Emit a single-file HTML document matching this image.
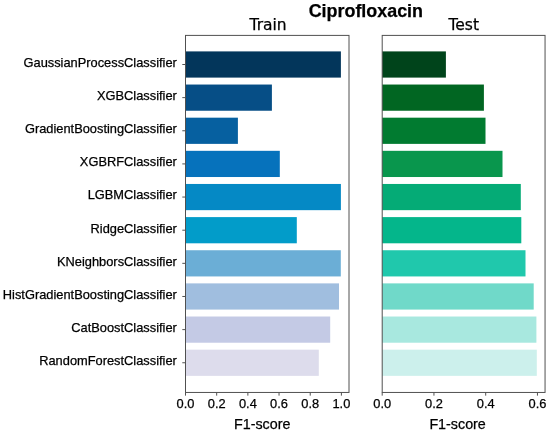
<!DOCTYPE html>
<html><head><meta charset="utf-8"><title>Ciprofloxacin</title>
<style>
html,body{margin:0;padding:0;background:#fff;}
body{width:550px;height:433px;position:relative;overflow:hidden;font-family:"Liberation Sans",sans-serif;color:#000;-webkit-text-stroke:0.25px #000;}
svg{position:absolute;left:0;top:0;}
.a{position:absolute;}
.yl{position:absolute;right:373.2px;font-size:12.83px;line-height:16px;height:16px;white-space:nowrap;text-align:right;}
.xl{position:absolute;font-size:12.83px;line-height:14px;height:14px;width:40px;text-align:center;white-space:nowrap;}
.t{position:absolute;font-family:"DejaVu Sans",sans-serif;font-size:15.5px;line-height:18px;white-space:nowrap;}
</style></head><body>
<svg width="550" height="433" viewBox="0 0 550 433">
<rect x="185.5" y="51.40" width="155.4" height="26.2" fill="#03365B"/>
<rect x="382.2" y="51.40" width="63.7" height="26.2" fill="#00441B"/>
<rect x="185.5" y="84.54" width="86.4" height="26.2" fill="#064E86"/>
<rect x="382.2" y="84.54" width="101.7" height="26.2" fill="#016622"/>
<rect x="185.5" y="117.68" width="52.4" height="26.2" fill="#0660A0"/>
<rect x="382.2" y="117.68" width="103.3" height="26.2" fill="#017B30"/>
<rect x="185.5" y="150.82" width="94.3" height="26.2" fill="#0672BC"/>
<rect x="382.2" y="150.82" width="120.3" height="26.2" fill="#09964D"/>
<rect x="185.5" y="183.96" width="155.4" height="26.2" fill="#0589C5"/>
<rect x="382.2" y="183.96" width="138.6" height="26.2" fill="#05AB76"/>
<rect x="185.5" y="217.10" width="111.3" height="26.2" fill="#029CC9"/>
<rect x="382.2" y="217.10" width="139.1" height="26.2" fill="#04B68B"/>
<rect x="185.5" y="250.24" width="155.3" height="26.2" fill="#6BAED6"/>
<rect x="382.2" y="250.24" width="143.3" height="26.2" fill="#20C8AC"/>
<rect x="185.5" y="283.38" width="153.5" height="26.2" fill="#A0BEDF"/>
<rect x="382.2" y="283.38" width="151.5" height="26.2" fill="#70D9C9"/>
<rect x="185.5" y="316.52" width="144.7" height="26.2" fill="#C4CAE5"/>
<rect x="382.2" y="316.52" width="154.2" height="26.2" fill="#A8E8DF"/>
<rect x="185.5" y="349.66" width="133.3" height="26.2" fill="#DDDCEC"/>
<rect x="382.2" y="349.66" width="154.6" height="26.2" fill="#CCF0EC"/>
<g stroke="#505050" stroke-width="1" fill="none">
<line x1="182.3" y1="64.50" x2="185.5" y2="64.50"/>
<line x1="182.3" y1="97.64" x2="185.5" y2="97.64"/>
<line x1="182.3" y1="130.78" x2="185.5" y2="130.78"/>
<line x1="182.3" y1="163.92" x2="185.5" y2="163.92"/>
<line x1="182.3" y1="197.06" x2="185.5" y2="197.06"/>
<line x1="182.3" y1="230.20" x2="185.5" y2="230.20"/>
<line x1="182.3" y1="263.34" x2="185.5" y2="263.34"/>
<line x1="182.3" y1="296.48" x2="185.5" y2="296.48"/>
<line x1="182.3" y1="329.62" x2="185.5" y2="329.62"/>
<line x1="182.3" y1="362.76" x2="185.5" y2="362.76"/>
<line x1="185.50" y1="392.45" x2="185.50" y2="395.65"/>
<line x1="216.68" y1="392.45" x2="216.68" y2="395.65"/>
<line x1="247.86" y1="392.45" x2="247.86" y2="395.65"/>
<line x1="279.04" y1="392.45" x2="279.04" y2="395.65"/>
<line x1="310.22" y1="392.45" x2="310.22" y2="395.65"/>
<line x1="341.40" y1="392.45" x2="341.40" y2="395.65"/>
<line x1="382.20" y1="392.45" x2="382.20" y2="395.65"/>
<line x1="433.95" y1="392.45" x2="433.95" y2="395.65"/>
<line x1="485.70" y1="392.45" x2="485.70" y2="395.65"/>
<line x1="537.45" y1="392.45" x2="537.45" y2="395.65"/>
<rect x="185.5" y="35.4" width="163.5" height="357.05"/>
<rect x="382.2" y="35.4" width="162.85" height="357.05"/>
</g></svg>
<div class="a" style="left:265.85px;width:200px;text-align:center;top:1.3px;font-weight:bold;font-size:17.9px;line-height:20px;">Ciprofloxacin</div>
<div class="t" style="left:249.5px;top:15.9px;">Train</div>
<div class="t" style="left:448.5px;top:15.9px;">Test</div>
<div class="yl" style="top:54.80px">GaussianProcessClassifier</div>
<div class="yl" style="top:87.94px">XGBClassifier</div>
<div class="yl" style="top:121.08px">GradientBoostingClassifier</div>
<div class="yl" style="top:154.22px">XGBRFClassifier</div>
<div class="yl" style="top:187.36px">LGBMClassifier</div>
<div class="yl" style="top:220.50px">RidgeClassifier</div>
<div class="yl" style="top:253.64px">KNeighborsClassifier</div>
<div class="yl" style="top:286.78px">HistGradientBoostingClassifier</div>
<div class="yl" style="top:319.92px">CatBoostClassifier</div>
<div class="yl" style="top:353.06px">RandomForestClassifier</div>
<div class="xl" style="left:165.50px;top:396.7px">0.0</div>
<div class="xl" style="left:196.68px;top:396.7px">0.2</div>
<div class="xl" style="left:227.86px;top:396.7px">0.4</div>
<div class="xl" style="left:259.04px;top:396.7px">0.6</div>
<div class="xl" style="left:290.22px;top:396.7px">0.8</div>
<div class="xl" style="left:321.40px;top:396.7px">1.0</div>
<div class="xl" style="left:362.20px;top:396.7px">0.0</div>
<div class="xl" style="left:413.95px;top:396.7px">0.2</div>
<div class="xl" style="left:465.70px;top:396.7px">0.4</div>
<div class="xl" style="left:517.45px;top:396.7px">0.6</div>
<div class="a" style="left:232.2px;top:415.5px;width:60px;text-align:center;font-size:14.3px;line-height:16px;white-space:nowrap;">F1-score</div>
<div class="a" style="left:427.6px;top:415.5px;width:60px;text-align:center;font-size:14.3px;line-height:16px;white-space:nowrap;">F1-score</div>
</body></html>
